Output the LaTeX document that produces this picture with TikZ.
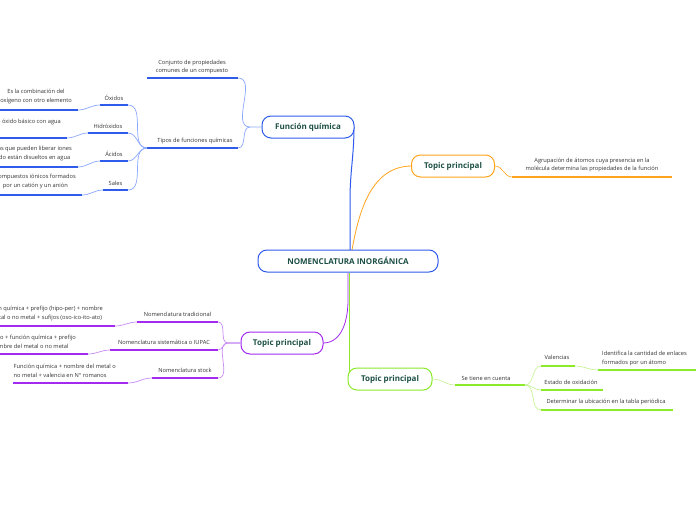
\documentclass[tikz,border=0pt]{standalone}
\usepackage{fontspec}
\setmainfont{Open Sans}
\definecolor{cb}{HTML}{2F5BEA}\definecolor{cbl}{HTML}{8CA8FF}
\definecolor{co}{HTML}{FFA41C}\definecolor{cp}{HTML}{A32BF0}\definecolor{cpl}{HTML}{C98BF5}
\definecolor{cg}{HTML}{8BEA2A}\definecolor{cgl}{HTML}{C2F28E}\definecolor{tx}{HTML}{1D4F44}
\begin{document}
\begin{tikzpicture}[x=1pt,y=-1pt,
 topic/.style={draw,rounded corners=9pt,line width=1pt,fill=white,text=tx,font=\bfseries\fontsize{8}{9}\selectfont,minimum height=22pt,inner xsep=8pt},
 lbl/.style={font=\fontsize{5.7}{8.8}\selectfont,text=black!80,align=center,inner sep=0pt},
 ul/.style={line width=1.4pt},
 cn/.style={line width=0.7pt,out=180,in=0}]
\clip (0,0) rectangle (696,520);
\fill[white] (0,0) rectangle (696,520);
\draw[cb,line width=1pt] (350,250) -- (350,200) to[out=90,in=-90] (354,127);
\draw[co,line width=0.8pt] (352,250) to[out=80,in=180] (412,166);
\draw[cp,line width=0.8pt] (348,273) -- (348,300) to[out=-90,in=0] (323,343);
\draw[cg,line width=0.8pt] (349,273) -- (349,379);
\node[topic,draw=cb,minimum width=180pt] (c) at (348,261) {NOMENCLATURA INORGÁNICA};
\node[topic,draw=cb,minimum width=92pt] (f) at (308,127) {Función química};
\node[topic,draw=co,minimum width=83pt] (o) at (453,166) {Topic principal};
\node[topic,draw=cp,minimum width=82pt] (p) at (282,343) {Topic principal};
\node[topic,draw=cg,minimum width=84pt] (g) at (390,379) {Topic principal};
\coordinate (fl) at (262,127);
\draw[cb,ul] (147,78) coordinate (a1) -- (238,78) coordinate (a2);
\node[lbl] (at) at (192,67) {Conjunto de propiedades\\comunes de un compuesto};
\draw[cb,ul] (147,148) coordinate (b1) -- (238,148) coordinate (b2);
\node[lbl] (bt) at (195,141) {Tipos de funciones químicas};
\draw[cbl,cn] (fl) -- (250,127) to[out=180,in=0] (a2);
\draw[cbl,cn] (250,127) to[out=180,in=0] (b2);
\foreach \n/\xa/\y/\t/\gx/\gy/\gt in {
 ox/100/105/Óxidos/78/110/{Es la combinación del\\oxígeno con otro elemento},
 hi/88/133/Hidróxidos/67/138/{Resultan de un óxido básico con agua\\\mbox{}},
 ac/100/161/Ácidos/78/167/{Sustancias que pueden liberar iones\\H+ cuando están disueltos en agua},
 sa/103/190/Sales/82/195/{Compuestos iónicos formados\\por un catión y un anión}}{
 \draw[cb,ul] (\xa,\y) coordinate (\n1) -- (128,\y) coordinate (\n2);
 \node[lbl] (\n t) at ({(\xa+128)/2},\y-7) {\t};
 \draw[cbl,cn] (b1) to (\n2);
 \draw[cb,ul] (-5,\gy) coordinate (\n g1) -- (\gx,\gy) coordinate (\n g2);
 \draw[cbl,cn] (\n1) to (\n g2);
 \node[lbl,anchor=south east] (\n gt) at (\gx-6,\gy-6) {\gt};
}
\draw[co,ul] (512,177) coordinate (o1) -- (672,177) coordinate (o2);
\node[lbl] (ot) at (592,165) {Agrupación de átomos cuya presencia en la\\molécula determina las propiedades de la función};
\draw[co,line width=0.6pt] (o.east) to[out=0,in=180] (o1);
\foreach \n/\xa/\y/\t/\gxa/\gx/\gy/\gt in {
 tr/137/322/Nomenclatura tradicional/-5/115/326/{Función química + prefijo (hipo-per) + nombre\\del metal o no metal + sufijos (oso-ico-ito-ato)},
 iu/110/350/Nomenclatura sistemática o IUPAC/-5/88/354/{Prefijo + función química + prefijo\\+ nombre del metal o no metal},
 st/152/378/Nomenclatura stock/13/128/383/{Función química + nombre del metal o\\no metal + valencia en N° romanos}}{
 \draw[cp,ul] (\xa,\y) coordinate (\n1) -- (218,\y) coordinate (\n2);
 \node[lbl] (\n t) at ({(\xa+218)/2},\y-8) {\t};
 \draw[cpl,cn] (p.west) -- (228,343) to[out=180,in=0] (\n2);
 \draw[cp,ul] (\gxa,\gy) coordinate (\n g1) -- (\gx,\gy) coordinate (\n g2);
 \draw[cpl,cn] (\n1) to (\n g2);
 \node[lbl,anchor=south east,align=left] (\n gt) at (\gx-12,\gy-5) {\gt};
}
\draw[cg,ul] (455,385) coordinate (s1) -- (525,385) coordinate (s2);
\node[lbl] (sT) at (486,378) {Se tiene en cuenta};
\draw[cgl,line width=0.6pt] (g.east) to[out=0,in=180] (s1);
\draw[cg,ul] (541,366) coordinate (v1) -- (575,366) coordinate (v2);
\node[lbl] (vt) at (557,357) {Valencias};
\draw[cg,ul] (598,370) coordinate (w1) -- (696,370) coordinate (w2);
\node[lbl,anchor=south west,align=left] (wt) at (602,366) {Identifica la cantidad de enlaces\\formados por un átomo};
\draw[cgl,line width=0.6pt] (v2) to[out=0,in=180] (w1);
\draw[cg,ul] (541,390) coordinate (e1) -- (603,390) coordinate (e2);
\node[lbl] (et) at (571,382) {Estado de oxidación};
\draw[cg,ul] (541,410) coordinate (d1) -- (673,410) coordinate (d2);
\node[lbl] (dt) at (606,402) {Determinar la ubicación en la tabla periódica};
\foreach \k in {v1,e1,d1}{\draw[cgl,line width=0.6pt] (s2) to[out=0,in=180] (\k);}
\end{tikzpicture}
\end{document}
